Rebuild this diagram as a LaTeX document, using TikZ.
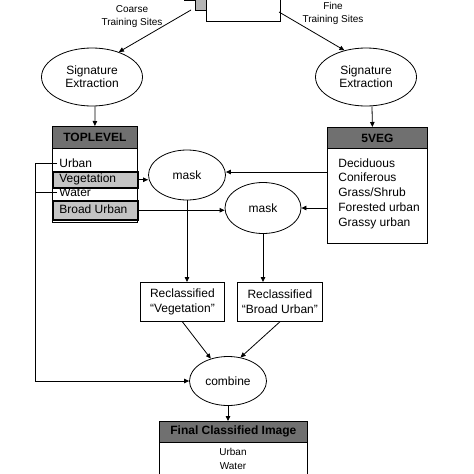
\documentclass[tikz,border=0pt]{standalone}
\usepackage{fontspec}
\setmainfont{Liberation Sans}
\usetikzlibrary{shapes.geometric,arrows.meta,calc}
\definecolor{hdrgray}{HTML}{707070}
\definecolor{selgray}{HTML}{C4C4C4}
\definecolor{stackgray}{HTML}{B4B4B4}
\begin{document}
\begin{tikzpicture}[x=1pt,y=-1pt,
  line width=0.8pt,
  arr/.style={-{Triangle[length=5pt,width=4.5pt]}},
  oval/.style={draw,ellipse,inner sep=0pt,font=\fontsize{12}{13}\selectfont,align=center},
  plainbox/.style={draw,rectangle,inner sep=0pt,anchor=north west},
  hdr/.style={draw,rectangle,fill=hdrgray,inner sep=0pt,anchor=north west,font=\fontsize{12}{14}\selectfont\bfseries},
  selbox/.style={draw,rectangle,fill=selgray,line width=1.5pt,inner sep=0pt,anchor=north west},
  item/.style={anchor=west,inner sep=2pt,font=\fontsize{12}{14}\selectfont},
  lbl/.style={align=center,inner sep=0pt,font=\fontsize{10}{13}\selectfont},
  recl/.style={draw,rectangle,inner sep=0pt,anchor=north west,align=center,font=\fontsize{12}{15.5}\selectfont}
]
\useasboundingbox (0,0) rectangle (474,474);
\fill[white] (0,0) rectangle (474,474);

% stacked input images at top
\node[plainbox,fill=stackgray,minimum width=80pt,minimum height=40pt,anchor=south west] (stack1) at (184,1) {};
\node[plainbox,fill=stackgray,minimum width=80pt,minimum height=40pt,anchor=south west] (stack2) at (195,11) {};
\node[plainbox,fill=white,minimum width=74pt,minimum height=50pt,anchor=south west] (stack3) at (206,22) {};

% signature extraction
\node[oval,minimum width=101pt,minimum height=58pt] (sigL) at (92,77) {Signature\\Extraction};
\node[oval,minimum width=101pt,minimum height=58pt] (sigR) at (366,77) {Signature\\Extraction};

\coordinate (startL) at (191,10);
\coordinate (startR) at (279,12);
\draw[arr] (startL) -- (sigL.43);
\draw[arr] (startR) -- (sigR.129);
\node[lbl] (lblL) at (132,16.5) {Coarse\\Training Sites};
\node[lbl] (lblR) at (333,13) {Fine\\Training Sites};

% TOPLEVEL box
\node[plainbox,minimum width=85pt,minimum height=96pt] (top) at (52,126) {};
\node[hdr,minimum width=85pt,minimum height=22pt] (toph) at (52,126) {TOPLEVEL};
\node[selbox,minimum width=85pt,minimum height=16pt] (vegb) at (52,171) {};
\node[selbox,minimum width=85pt,minimum height=19pt] (bub) at (52,200) {};
\node[item] (urban) at (57,163) {Urban};
\node[item] (vegt) at (57,179) {Vegetation};
\node[item] (water) at (57,192.5) {Water};
\node[item] (but) at (57,209.5) {Broad Urban};

% 5VEG box
\node[plainbox,minimum width=100pt,minimum height=116pt] (veg5) at (327,127) {};
\node[hdr,minimum width=100pt,minimum height=21pt] (veg5h) at (327,127) {5VEG};
\node[anchor=west,inner sep=0pt,align=left,font=\fontsize{12}{14.75}\selectfont] (veg5t) at (338,193.5)
  {Deciduous\\Coniferous\\Grass/Shrub\\Forested urban\\Grassy urban};

\draw[arr] ($(sigL.south)+(3,0)$) -- (top.north);
\draw[arr] ($(sigR.south)+(6,0)$) -- ($(veg5.north)+(-5,0)$);

% masks
\node[oval,minimum width=77pt,minimum height=50pt] (mask1) at (187,175) {mask};
\node[oval,minimum width=76pt,minimum height=51pt] (mask2) at (263,208) {mask};

\draw[arr] (vegb.east) -- (vegb.east -| mask1.west);
\draw[arr] (bub.east) -- (bub.east -| mask2.west);
\coordinate (v5a) at (327,172);
\draw[arr] (v5a) -- (v5a -| mask1.east);
\draw[arr] (veg5.west |- mask2.east) -- (mask2.east);

% reclassified
\node[recl,minimum width=84pt,minimum height=39pt] (recv) at (140,282) {Reclassified\\“Vegetation”};
\node[recl,minimum width=85pt,minimum height=39pt] (recb) at (237,282) {Reclassified\\“Broad Urban”};

\draw[arr] (mask1.south) -- (mask1.south |- recv.north);
\draw[arr] (mask2.south) -- (mask2.south |- recb.north);

% combine
\node[oval,minimum width=77pt,minimum height=49pt] (combine) at (228,381) {combine};
\draw[arr] (recv.south) -- (combine);
\draw[arr] (recb.south) -- (combine.62);

\coordinate (ltop) at (35,163);
\draw[arr] (urban.west) -- (ltop) |- (combine.west);
\draw (water.west) -- (water.west -| ltop);

% final
\node[plainbox,minimum width=148pt,minimum height=80pt] (final) at (159,421) {};
\node[hdr,minimum width=148pt,minimum height=21pt] (finalh) at (159,421) {Final Classified Image};
\draw[arr] (combine.south) -- (combine.south |- final.north);
\node[lbl] (fu) at (233,452) {Urban};
\node[lbl] (fw) at (233,466) {Water};
\end{tikzpicture}
\end{document}
